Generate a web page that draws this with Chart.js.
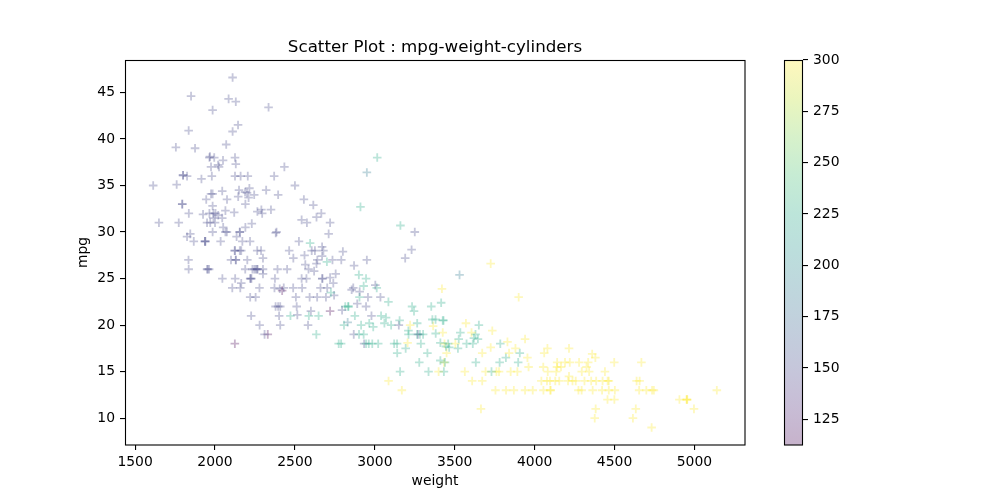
<!DOCTYPE html>
<html>
<head>
<meta charset="utf-8">
<script src="https://cdn.jsdelivr.net/npm/chart.js@4/dist/chart.umd.min.js"></script>
<style>
html,body{margin:0;padding:0;background:#fff;}
#wrap{position:relative;width:1000px;height:500px;}
#wrap canvas{position:absolute;left:0;top:0;}
</style>
</head>
<body>
<div id="wrap">
<canvas id="main" width="1000" height="500"></canvas>
<canvas id="cbar" width="1000" height="500"></canvas>
</div>
<script>
const weight = [
3504,3693,3436,3433,3449,4341,4354,4312,4425,3850,
3563,3609,3761,3086,2372,2833,2774,2587,2130,1835,
2672,2430,2375,2234,2648,4615,4376,4382,4732,2130,
2264,2228,2046,2634,3439,3329,3302,3288,4209,4464,
4154,4096,4955,4746,5140,2962,2408,3282,3139,2220,
2123,2074,2065,1773,1613,1834,1955,2278,2126,2254,
2408,2226,4274,4385,4135,4129,3672,4633,4502,4456,
4422,2330,3892,4098,4294,4077,2933,2511,2979,2189,
2395,2288,2506,2164,2100,4100,3672,3988,4042,3777,
4952,4464,4363,4237,4735,4951,3821,3121,3278,2945,
3021,2904,1950,4997,4906,4654,4499,2789,2279,2401,
2379,2124,2310,2472,2265,4082,4278,1867,2158,2582,
2868,3399,2660,2807,3664,3102,2875,2901,3336,1950,
2451,1836,2542,3781,3632,3613,4141,4699,4457,4638,
4257,2219,1963,2300,1649,2003,2125,2108,2246,2489,
2391,2000,3264,3459,3432,3158,4668,4440,4498,4657,
3907,3897,3730,3785,3039,3221,3169,2171,2639,2914,
2592,2702,2223,2545,2984,1937,3211,2694,2957,2945,
2671,1795,2464,2220,2572,2255,2202,4215,4190,3962,
4215,3233,3353,3012,3085,2035,2164,1937,1795,3651,
3574,3645,3193,1825,1990,2155,2565,3150,3940,3270,
2930,3820,4380,4055,3870,3755,2045,2155,1825,2300,
1945,3880,4060,4140,4295,3520,3425,3630,3525,4220,
4165,4325,4335,1940,2740,2265,2755,2051,2075,1985,
2190,2815,2600,2720,1985,1800,1985,2070,1800,3365,
3735,3570,3535,3155,2965,2720,3430,3210,3380,3070,
3620,3410,3425,3445,3205,4080,2155,2560,2300,2230,
2515,2745,2855,2405,2830,3140,2795,3410,1990,2135,
3245,2990,2890,3265,3360,3840,3725,3955,3830,4360,
4054,3605,3940,1925,1975,1915,2670,3530,3900,3190,
3420,2200,2150,2020,2130,2670,2595,2700,2556,2144,
1968,2120,2019,2678,2870,3003,3381,2188,2711,2542,
2434,2265,2110,2800,2110,2085,2335,2950,3250,1850,
1835,2145,1845,2910,2420,2500,2905,2290,2490,2635,
2620,2725,2385,1755,1875,1760,2065,1975,2050,1985,
2215,2045,2380,2190,2320,2210,2350,2615,2635,3230,
3160,2900,2930,3415,3725,3060,3465,2605,2640,2395,
2575,2525,2735,2865,3035,1980,2025,1970,2125,2125,
2160,2205,2245,1965,1965,1995,2945,3015,2585,2835,
2665,2370,2950,2790,2130,2295,2625,2720
];
const mpg = [
18,15,18,16,17,15,14,14,14,15,
15,14,15,14,24,22,18,21,27,26,
25,24,25,26,21,10,10,11,9,27,
28,25,25,19,16,17,19,18,14,14,
14,14,12,13,13,18,22,19,18,23,
28,30,30,31,35,27,26,24,25,23,
20,21,13,14,15,14,17,11,13,12,
13,19,15,13,13,14,18,22,21,26,
22,28,23,28,27,13,14,13,14,15,
12,13,13,14,13,12,13,18,16,18,
18,23,26,11,12,13,12,18,20,21,
22,18,19,21,26,15,16,29,24,20,
19,15,24,20,11,20,21,19,15,31,
26,32,25,16,16,18,16,13,14,14,
14,29,26,26,31,32,28,24,26,24,
26,31,19,18,15,15,16,15,16,14,
17,16,15,18,21,20,13,29,23,20,
23,24,25,24,18,29,19,23,23,22,
25,33,28,25,25,26,27,17.5,16,15.5,
14.5,22,22,24,22.5,29,24.5,29,33,20,
18,18.5,17.5,29.5,32,28,26.5,20,13,19,
19,16.5,16.5,13,13,13,31.5,30,36,25.5,
33.5,17.5,17,15.5,15,17.5,20.5,19,18.5,16,
15.5,15.5,16,29,24.5,26,25.5,30.5,33.5,30,
30.5,22,21.5,21.5,43.1,36.1,32.8,39.4,36.1,19.9,
19.4,20.2,19.2,20.5,20.2,25.1,20.5,19.4,20.6,20.8,
18.6,18.1,19.2,17.7,18.1,17.5,30,27.5,27.2,30.9,
21.1,23.2,23.8,23.9,20.3,17,21.6,16.2,31.5,29.5,
21.5,19.8,22.3,20.2,20.6,17,17.6,16.5,18.2,16.9,
15.5,19.2,18.5,31.9,34.1,35.7,27.4,25.4,23,27.2,
23.9,34.2,34.5,31.8,37.3,28.4,28.8,26.8,33.5,41.5,
38.1,32.1,37.2,28,26.4,24.3,19.1,34.3,29.8,31.3,
37,32.2,46.6,27.9,40.8,44.3,43.4,36.4,30,44.6,
40.9,33.8,29.8,32.7,23.7,35,23.6,32.4,27.2,26.6,
25.8,23.5,30,39.1,39,35.1,32.3,37,37.7,34.1,
34.7,34.4,29.9,33,34.5,33.7,32.4,32.9,31.6,28.1,
30.7,25.4,24.2,22.4,26.6,20.2,17.6,28,27,34,
31,29,27,24,23,36,37,31,38,36,
36,36,34,38,32,38,25,38,26,22,
32,36,27,27,44,32,28,31
];
const cylinders = [
8,8,8,8,8,8,8,8,8,8,
8,8,8,8,4,6,6,6,4,4,
4,4,4,4,6,8,8,8,8,4,
4,4,4,6,6,6,6,6,8,8,
8,8,8,8,8,6,4,6,6,4,
4,4,4,4,4,4,4,4,4,4,
4,4,8,8,8,8,8,8,8,8,
8,3,8,8,8,8,4,4,4,4,
4,4,4,4,4,8,8,8,8,8,
8,8,8,8,8,8,8,6,6,6,
6,6,4,8,8,8,8,6,4,4,
4,3,4,6,4,8,8,4,4,4,
4,8,4,6,8,6,6,6,6,4,
4,4,4,6,6,6,8,8,8,8,
8,4,4,4,4,4,4,4,4,4,
4,4,6,6,6,6,8,8,8,8,
6,6,6,6,6,8,8,4,4,6,
4,4,4,4,6,4,6,4,4,4,
4,4,4,4,4,4,4,8,8,8,
8,6,6,6,6,4,4,4,4,6,
6,6,6,4,4,4,4,4,8,4,
6,6,8,8,8,8,4,4,4,4,
4,8,8,8,8,6,6,6,6,8,
8,8,8,4,4,4,4,4,4,4,
4,6,4,3,4,4,4,4,4,8,
8,8,6,6,6,4,6,6,6,6,
6,6,8,6,8,8,4,4,4,4,
4,4,4,4,5,6,4,6,4,4,
6,6,4,6,6,8,8,8,8,8,
8,8,8,4,4,4,4,5,8,4,
8,4,4,4,4,4,6,6,4,4,
4,4,4,4,4,4,6,4,4,4,
4,4,4,4,4,4,4,5,4,4,
4,4,4,6,3,4,4,4,4,4,
4,6,4,4,4,4,4,4,4,4,
4,4,4,4,4,4,4,4,4,4,
6,6,6,6,8,6,6,4,4,4,
4,4,4,4,4,4,4,4,4,4,
4,4,4,4,4,4,6,6,4,6,
4,4,4,4,4,4,4,4
];
const xTicks = [1500,2000,2500,3000,3500,4000,4500,5000];
const yTicks = [10,15,20,25,30,35,40,45];
const cbTicks = [125,150,175,200,225,250,275,300];
const titleText = 'Scatter Plot : mpg-weight-cylinders';
const xLabel = 'weight';
const yLabel = 'mpg';

// colour value of each point: cylinders scaled (3 -> 112.5, 8 -> 300)
const colourScale = 37.5;
const cbMin = Math.min(...cylinders) * colourScale;
const cbMax = Math.max(...cylinders) * colourScale;

const VIR = [[68,1,84],[72,36,117],[65,68,135],[53,95,141],[42,120,142],[33,145,140],[34,168,132],[68,191,112],[122,209,81],[189,223,38],[253,231,37]];
function viridis(t, a){
  t = Math.max(0, Math.min(1, t));
  const f = t * 10; const i = Math.min(9, Math.floor(f)); const u = f - i;
  const c = VIR[i].map((v,k)=>Math.round(v + (VIR[i+1][k]-v)*u));
  return 'rgba(' + c[0] + ',' + c[1] + ',' + c[2] + ',' + a + ')';
}
const ALPHA = 0.3;

Chart.defaults.font.family = "'DejaVu Sans', sans-serif";
Chart.defaults.font.size = 13.9;
Chart.defaults.color = '#000';

const wMin = Math.min(...weight), wMax = Math.max(...weight);
const mMin = Math.min(...mpg), mMax = Math.max(...mpg);
const xMin = wMin - 0.05*(wMax-wMin), xMax = wMax + 0.05*(wMax-wMin);
const yMin = mMin - 0.05*(mMax-mMin), yMax = mMax + 0.05*(mMax-mMin);

const points = weight.map((w,i)=>({x:w, y:mpg[i]}));
const pointColours = cylinders.map(c=>viridis((c*colourScale - cbMin)/(cbMax-cbMin), ALPHA));

const frameAndTitle = {
  id: 'frameAndTitle',
  afterDraw(chart){
    const {ctx, chartArea:a} = chart;
    ctx.save();
    ctx.strokeStyle = '#000'; ctx.lineWidth = 1.1;
    ctx.strokeRect(Math.round(a.left)+0.5, Math.round(a.top)+0.5, Math.round(a.right-a.left)-1+0.5, Math.round(a.bottom-a.top)-0.5);
    ctx.fillStyle = '#000';
    ctx.font = "16.7px 'DejaVu Sans', sans-serif";
    ctx.textAlign = 'center'; ctx.textBaseline = 'alphabetic';
    ctx.fillText(titleText, (a.left+a.right)/2, a.top - 8.3);
    ctx.restore();
  }
};

const tickGrid = {display:true, drawOnChartArea:false, drawTicks:true, tickLength:5, color:'#000', lineWidth:1.1};

new Chart(document.getElementById('main'), {
  type:'scatter',
  data:{datasets:[{
    data:points,
    pointStyle:'cross',
    pointRadius:4.3,
    pointBorderWidth:1.8,
    pointBorderColor:pointColours,
    pointBackgroundColor:pointColours
  }]},
  options:{
    responsive:false, animation:false, events:[], devicePixelRatio:1,
    layout:{padding:{left:0, right:255, top:60, bottom:0}},
    plugins:{legend:{display:false}, tooltip:{enabled:false}, title:{display:false}},
    scales:{
      x:{
        type:'linear', min:xMin, max:xMax,
        afterFit(s){ s.height = 55; },
        afterBuildTicks(s){ s.ticks = xTicks.map(v=>({value:v})); },
        grid:tickGrid,
        border:{display:false},
        ticks:{padding:4, maxRotation:0, autoSkip:false, callback:v=>String(v)},
        title:{display:true, text:xLabel, padding:{top:0, bottom:10}}
      },
      y:{
        type:'linear', min:yMin, max:yMax,
        afterFit(s){ s.width = 125; },
        afterBuildTicks(s){ s.ticks = yTicks.map(v=>({value:v})); },
        grid:tickGrid,
        border:{display:false},
        ticks:{padding:5, autoSkip:false, callback:v=>String(v)},
        title:{display:true, text:yLabel, padding:{top:75, bottom:0}}
      }
    }
  },
  plugins:[frameAndTitle]
});

const colourBar = {
  id:'colourBar',
  beforeDatasetsDraw(chart){
    const {ctx, chartArea:a} = chart;
    const g = ctx.createLinearGradient(0, a.bottom, 0, a.top);
    for (let i=0;i<=40;i++){ g.addColorStop(i/40, viridis(i/40, ALPHA)); }
    ctx.save();
    ctx.fillStyle = g;
    ctx.fillRect(a.left, a.top, a.right-a.left, a.bottom-a.top);
    ctx.strokeStyle = '#000'; ctx.lineWidth = 1.1;
    ctx.strokeRect(Math.round(a.left)+0.5, Math.round(a.top)+0.5, Math.round(a.right-a.left)-1, Math.round(a.bottom-a.top)-0.5);
    ctx.restore();
  }
};

new Chart(document.getElementById('cbar'), {
  type:'scatter',
  data:{datasets:[{data:[]}]},
  options:{
    responsive:false, animation:false, events:[], devicePixelRatio:1,
    layout:{padding:{left:784, right:0, top:60, bottom:55}},
    plugins:{legend:{display:false}, tooltip:{enabled:false}},
    scales:{
      x:{type:'linear', display:false, min:0, max:1},
      y:{
        type:'linear', position:'right', min:cbMin, max:cbMax,
        afterFit(s){ s.width = 1000-803; },
        afterBuildTicks(s){ s.ticks = cbTicks.map(v=>({value:v})); },
        grid:tickGrid,
        border:{display:false},
        ticks:{padding:5, autoSkip:false, callback:v=>String(v)}
      }
    }
  },
  plugins:[colourBar]
});
</script>
</body>
</html>
